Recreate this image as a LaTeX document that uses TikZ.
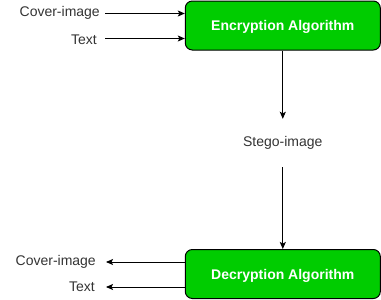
\documentclass[tikz,border=0pt]{standalone}
\usepackage{fontspec}
\setmainfont{Liberation Sans}
\usetikzlibrary{arrows.meta}
\definecolor{boxgreen}{HTML}{00CC00}
\definecolor{txtgray}{HTML}{333333}
\begin{document}
\begin{tikzpicture}[x=1pt,y=-1pt,
  algbox/.style={draw=black,fill=boxgreen,rounded corners=7pt,line width=1pt,
    minimum width=195pt,minimum height=49pt,inner sep=0pt,text height=10pt,text depth=0pt,
    font=\fontsize{14}{16}\selectfont\bfseries,text=white},
  lbl/.style={font=\fontsize{14}{16}\selectfont,text=txtgray,inner sep=0pt,anchor=east},
  conn/.style={line width=0.9pt,-{Stealth[length=7pt,width=6pt,inset=1.5pt]}}]
\useasboundingbox (0,0) rectangle (381,300);
\node[algbox] (enc) at (282.8,25.5) {Encryption Algorithm};
\node[algbox] (dec) at (282.8,274) {Decryption Algorithm};
\node[font=\fontsize{14}{16}\selectfont,text=txtgray,inner sep=0pt,minimum height=48pt] (stego) at (282.8,143) {Stego-image};
\node[lbl] (ci1) at (100,13) {Cover-image};
\node[lbl] (tx1) at (97,40) {Text};
\node[lbl] (ci2) at (96,262) {Cover-image};
\node[lbl] (tx2) at (95,287) {Text};
\coordinate (a1) at (105,13.5);
\coordinate (a2) at (105,38.5);
\coordinate (b1) at (106,262);
\coordinate (b2) at (106,287);
\draw[conn] (a1) -- (a1 -| enc.west);
\draw[conn] (a2) -- (a2 -| enc.west);
\draw[conn] (b1 -| dec.west) -- (b1);
\draw[conn] (b2 -| dec.west) -- (b2);
\draw[conn] (enc.south) -- (stego.north);
\draw[conn] (stego.south) -- (dec.north);
\end{tikzpicture}
\end{document}
